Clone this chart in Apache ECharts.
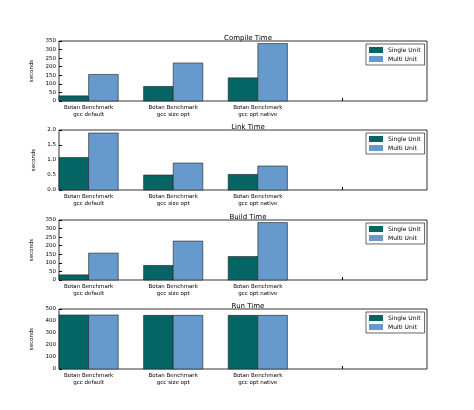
<!DOCTYPE html>
<html><head><meta charset="utf-8">
<script src="https://cdn.jsdelivr.net/npm/echarts@6/dist/echarts.min.js"></script>
<style>html,body{margin:0;background:#fff}#c{width:474px;height:410px}</style>
</head><body><div id="c"></div>
<script>
const categories = ["Botan Benchmark\ngcc default", "Botan Benchmark\ngcc size opt", "Botan Benchmark\ngcc opt native"];
const titles = ["Compile Time", "Link Time", "Build Time", "Run Time"];
const singleUnit = [[30, 85, 135], [1.08, 0.5, 0.52], [30, 85, 137], [450, 447, 447]];
const multiUnit = [[155, 222, 335], [1.9, 0.9, 0.8], [157, 227, 335], [450, 447, 447]];
const yMax = [350, 2.0, 350, 500];
const yInterval = [50, 0.5, 50, 100];
const W = 0.35;
const tops = [41, 130, 220, 309];
const colors = {single: '#056565', multi: '#6699cc'};

const grid = [], xAxis = [], yAxis = [], series = [], title = [], legend = [];
tops.forEach((t, i) => {
  grid.push({left: 59, width: 368, top: t, height: 60, show: true, borderColor: '#000', borderWidth: 0.8, backgroundColor: 'transparent'});
  title.push({text: titles[i], left: 243, top: t - 11, textAlign: 'center', textStyle: {fontSize: 7, fontWeight: 'normal', color: '#000', fontFamily: 'DejaVu Sans'}});
  xAxis.push({type: 'value', gridIndex: i, min: 0, max: 4.35,
    axisLine: {show: false}, splitLine: {show: false},
    axisTick: {show: true, inside: true, length: 3, lineStyle: {color: '#000'}, customValues: [0.35, 1.35, 2.35, 3.35]},
    axisLabel: {show: true, customValues: [0.35, 1.35, 2.35], fontSize: 5.5, color: '#000', lineHeight: 7, margin: 3, fontFamily: 'DejaVu Sans',
      formatter: v => { const k = Math.round(v - 0.35); return categories[k] || ''; }}});
  yAxis.push({type: 'value', gridIndex: i, min: 0, max: yMax[i], interval: yInterval[i],
    name: 'seconds', nameLocation: 'middle', nameGap: 18, nameRotate: 90, nameTextStyle: {fontSize: 5.5, color: '#000', fontFamily: 'DejaVu Sans'},
    axisLine: {show: false}, splitLine: {show: false},
    axisTick: {show: true, inside: true, length: 3, lineStyle: {color: '#000'}},
    axisLabel: {fontSize: 5.5, color: '#000', margin: 3, fontFamily: 'DejaVu Sans',
      formatter: v => i === 1 ? v.toFixed(1) : String(v)}});
  const mk = (name, vals, off, color) => ({
    type: 'custom', name, xAxisIndex: i, yAxisIndex: i, color,
    data: vals.map((v, k) => [k + off, v]),
    encode: {x: 0, y: 1},
    renderItem: (p, api) => {
      const a = api.coord([api.value(0), api.value(1)]);
      const b = api.coord([api.value(0) + W, 0]);
      return {type: 'rect', shape: {x: a[0], y: a[1], width: b[0] - a[0], height: b[1] - a[1]},
        style: {fill: api.visual('color'), stroke: '#222', lineWidth: 0.6}};
    }
  });
  series.push(mk('Single Unit', singleUnit[i], 0, colors.single));
  series.push(mk('Multi Unit', multiUnit[i], W, colors.multi));
  legend.push({top: t + 3, left: 366, orient: 'vertical', data: ['Single Unit', 'Multi Unit'], itemWidth: 14, itemHeight: 6, itemGap: 3,
    padding: [3, 4, 3, 3], borderColor: '#000', borderWidth: 0.6, backgroundColor: '#fff', selectedMode: false,
    textStyle: {fontSize: 6, color: '#000', fontFamily: 'DejaVu Sans'},
    icon: 'rect'});
});
const chart = echarts.init(document.getElementById('c'), null, {renderer: 'canvas'});
chart.setOption({animation: false, title, grid, xAxis, yAxis, series, legend});
</script></body></html>
